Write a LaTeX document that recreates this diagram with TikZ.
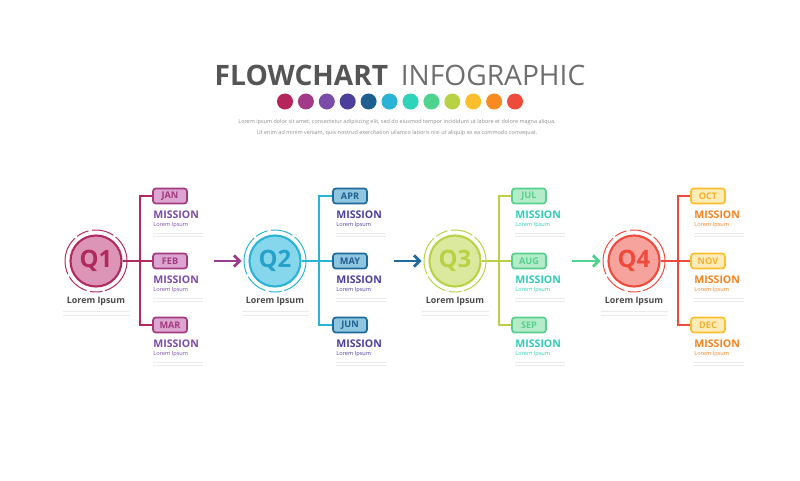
\documentclass[tikz,border=0pt]{standalone}
\usepackage{fontspec}
\setmainfont{Open Sans}
\usetikzlibrary{arrows.meta,positioning}

\definecolor{titlegray}{HTML}{555555}
\definecolor{lightgray}{HTML}{6E6E6E}
\definecolor{captiongray}{HTML}{4A4A4A}
\definecolor{dotA}{HTML}{B5245A}
\definecolor{dotB}{HTML}{A23B87}
\definecolor{dotC}{HTML}{7A4CA8}
\definecolor{dotD}{HTML}{4B3F9B}
\definecolor{dotE}{HTML}{1F5F8F}
\definecolor{dotF}{HTML}{2AB3D5}
\definecolor{dotG}{HTML}{2ED4BA}
\definecolor{dotH}{HTML}{4FD38F}
\definecolor{dotI}{HTML}{B9D245}
\definecolor{dotJ}{HTML}{FBBF2E}
\definecolor{dotK}{HTML}{F88A22}
\definecolor{dotL}{HTML}{EE4B3D}
% quarter 1
\definecolor{q1line}{HTML}{B02A60}
\definecolor{q1fill}{HTML}{DD95B7}
\definecolor{q1box}{HTML}{A3397F}
\definecolor{q1boxfill}{HTML}{DBA5CF}
\definecolor{q1mission}{HTML}{7C4BA6}
\definecolor{q1arrow}{HTML}{9B3C8C}
% quarter 2
\definecolor{q2line}{HTML}{2AB3D5}
\definecolor{q2fill}{HTML}{86D6EC}
\definecolor{q2text}{HTML}{25A2CA}
\definecolor{q2box}{HTML}{1F6A99}
\definecolor{q2boxfill}{HTML}{8EC6E0}
\definecolor{q2mission}{HTML}{4B3F9B}
\definecolor{q2arrow}{HTML}{1F6A99}
% quarter 3
\definecolor{q3line}{HTML}{B9D245}
\definecolor{q3fill}{HTML}{DBE99E}
\definecolor{q3box}{HTML}{56D08E}
\definecolor{q3boxfill}{HTML}{B4EBC8}
\definecolor{q3mission}{HTML}{2ECCB5}
\definecolor{q3arrow}{HTML}{4FD38F}
% quarter 4
\definecolor{q4line}{HTML}{EE4B3D}
\definecolor{q4fill}{HTML}{F5A39C}
\definecolor{q4box}{HTML}{FBBF2E}
\definecolor{q4boxtext}{HTML}{F0B030}
\definecolor{q4boxfill}{HTML}{FDEBB8}
\definecolor{q4mission}{HTML}{F5821F}

\begin{document}
\begin{tikzpicture}[x=0.025cm,y=-0.025cm,
  dot/.style={circle,minimum size=0.4cm,inner sep=0pt},
  quarter/.style={circle,line width=1.5pt,minimum size=1.275cm,inner sep=0pt,font=\bfseries\fontsize{17}{17}\selectfont},
  ring/.style={line width=0.7pt,dash pattern=on 28pt off 2pt on 9pt off 2.5pt on 16pt off 2pt},
  month/.style={rectangle,rounded corners=2pt,line width=1.2pt,minimum width=0.85cm,minimum height=0.375cm,inner sep=0pt,font=\bfseries\fontsize{6.5}{6.5}\selectfont},
  mission/.style={anchor=north west,inner sep=0pt,font=\bfseries\fontsize{7.5}{7.5}\selectfont},
  sublabel/.style={anchor=north west,inner sep=0pt,font=\fontsize{4}{4}\selectfont},
  caption/.style={inner sep=0pt,text=captiongray,font=\bfseries\fontsize{6.3}{6.3}\selectfont},
  header/.style={inner sep=0pt,text=black!45,font=\fontsize{3.9}{4}\selectfont},
  branch/.style={line width=1.8pt},
  flow/.style={-{Straight Barb[length=4pt,width=8pt]},line width=2pt},
  filler/.style={line width=0.6pt,draw=black!8}]
  \useasboundingbox (0,0) rectangle (800,480);

  % title and colour dots
  \node[anchor=base,inner sep=0pt,text=titlegray,font=\fontsize{20}{20}\selectfont] (title) at (400,85)
    {\textbf{FLOWCHART}\hspace{0.45em}\textcolor{lightgray}{INFOGRAPHIC}};
  \node[dot,fill=dotA] (d1) at (285,101.5) {};
  \node[dot,fill=dotB] (d2) at (305.9,101.5) {};
  \node[dot,fill=dotC] (d3) at (326.8,101.5) {};
  \node[dot,fill=dotD] (d4) at (347.7,101.5) {};
  \node[dot,fill=dotE] (d5) at (368.6,101.5) {};
  \node[dot,fill=dotF] (d6) at (389.5,101.5) {};
  \node[dot,fill=dotG] (d7) at (410.5,101.5) {};
  \node[dot,fill=dotH] (d8) at (431.4,101.5) {};
  \node[dot,fill=dotI] (d9) at (452.3,101.5) {};
  \node[dot,fill=dotJ] (d10) at (473.2,101.5) {};
  \node[dot,fill=dotK] (d11) at (494.1,101.5) {};
  \node[dot,fill=dotL] (d12) at (515,101.5) {};
  \node[header] (head1) at (397,122.5) {Lorem ipsum dolor sit amet, consectetur adipiscing elit, sed do eiusmod tempor incididunt ut labore et dolore magna aliqua.};
  \node[header] (head2) at (397,133.5) {Ut enim ad minim veniam, quis nostrud exercitation ullamco laboris nisi ut aliquip ex ea commodo consequat.};

  % Q1
  \node[quarter,fill=q1fill,draw=q1line,text=q1line] (q1) at (96,261) {Q1};
  \draw[ring,q1line] (q1) circle [radius=31];
  \node[caption] (cap1) at (96,301) {Lorem Ipsum};
  \draw[filler] (63,311) -- (130,311) (63,315) -- (130,315);
  \node[month,fill=q1boxfill,draw=q1box,text=q1box] (jan) at (170,196) {JAN};
  \node[month,fill=q1boxfill,draw=q1box,text=q1box] (feb) at (170,261) {FEB};
  \node[month,fill=q1boxfill,draw=q1box,text=q1box] (mar) at (170,325) {MAR};
  \coordinate (s1) at (140,261);
  \draw[branch,q1line] (jan.west) -| (s1) |- (mar.west);
  \draw[branch,q1line] (q1) -- (feb);
  \node[mission,text=q1mission] (janm) at ([shift={(1,6.5)}]jan.south west) {MISSION};
  \node[sublabel,text=q1mission] (janl) at ([shift={(0,3.5)}]janm.south west) {Lorem Ipsum};
  \draw[filler] ([shift={(0,5)}]janl.south west) -- ++(50,0) ([shift={(0,8)}]janl.south west) -- ++(50,0);
  \node[mission,text=q1mission] (febm) at ([shift={(1,6.5)}]feb.south west) {MISSION};
  \node[sublabel,text=q1mission] (febl) at ([shift={(0,3.5)}]febm.south west) {Lorem Ipsum};
  \draw[filler] ([shift={(0,5)}]febl.south west) -- ++(50,0) ([shift={(0,8)}]febl.south west) -- ++(50,0);
  \node[mission,text=q1mission] (marm) at ([shift={(1,6.5)}]mar.south west) {MISSION};
  \node[sublabel,text=q1mission] (marl) at ([shift={(0,3.5)}]marm.south west) {Lorem Ipsum};
  \draw[filler] ([shift={(0,5)}]marl.south west) -- ++(50,0) ([shift={(0,8)}]marl.south west) -- ++(50,0);

  % Q2
  \node[quarter,fill=q2fill,draw=q2line,text=q2text] (q2) at (275,261) {Q2};
  \draw[ring,q2line] (q2) circle [radius=31];
  \node[caption] (cap2) at (275,301) {Lorem Ipsum};
  \draw[filler] (242,311) -- (309,311) (242,315) -- (309,315);
  \node[month,fill=q2boxfill,draw=q2box,text=dotE] (apr) at (350,196) {APR};
  \node[month,fill=q2boxfill,draw=q2box,text=dotE] (may) at (350,261) {MAY};
  \node[month,fill=q2boxfill,draw=q2box,text=dotE] (jun) at (350,325) {JUN};
  \coordinate (s2) at (319,261);
  \draw[branch,q2line] (apr.west) -| (s2) |- (jun.west);
  \draw[branch,q2line] (q2) -- (may);
  \node[mission,text=q2mission] (aprm) at ([shift={(4,6.5)}]apr.south west) {MISSION};
  \node[sublabel,text=q2mission] (aprl) at ([shift={(0,3.5)}]aprm.south west) {Lorem Ipsum};
  \draw[filler] ([shift={(0,5)}]aprl.south west) -- ++(50,0) ([shift={(0,8)}]aprl.south west) -- ++(50,0);
  \node[mission,text=q2mission] (maym) at ([shift={(4,6.5)}]may.south west) {MISSION};
  \node[sublabel,text=q2mission] (mayl) at ([shift={(0,3.5)}]maym.south west) {Lorem Ipsum};
  \draw[filler] ([shift={(0,5)}]mayl.south west) -- ++(50,0) ([shift={(0,8)}]mayl.south west) -- ++(50,0);
  \node[mission,text=q2mission] (junm) at ([shift={(4,6.5)}]jun.south west) {MISSION};
  \node[sublabel,text=q2mission] (junl) at ([shift={(0,3.5)}]junm.south west) {Lorem Ipsum};
  \draw[filler] ([shift={(0,5)}]junl.south west) -- ++(50,0) ([shift={(0,8)}]junl.south west) -- ++(50,0);

  % Q3
  \node[quarter,fill=q3fill,draw=q3line,text=q3line] (q3) at (455,261) {Q3};
  \draw[ring,q3line] (q3) circle [radius=31];
  \node[caption] (cap3) at (455,301) {Lorem Ipsum};
  \draw[filler] (422,311) -- (489,311) (422,315) -- (489,315);
  \node[month,fill=q3boxfill,draw=q3box,text=q3box] (jul) at (529,196) {JUL};
  \node[month,fill=q3boxfill,draw=q3box,text=q3box] (aug) at (529,261) {AUG};
  \node[month,fill=q3boxfill,draw=q3box,text=q3box] (sep) at (529,325) {SEP};
  \coordinate (s3) at (499,261);
  \draw[branch,q3line] (jul.west) -| (s3) |- (sep.west);
  \draw[branch,q3line] (q3) -- (aug);
  \node[mission,text=q3mission] (julm) at ([shift={(4,6.5)}]jul.south west) {MISSION};
  \node[sublabel,text=q3mission] (jull) at ([shift={(0,3.5)}]julm.south west) {Lorem Ipsum};
  \draw[filler] ([shift={(0,5)}]jull.south west) -- ++(50,0) ([shift={(0,8)}]jull.south west) -- ++(50,0);
  \node[mission,text=q3mission] (augm) at ([shift={(4,6.5)}]aug.south west) {MISSION};
  \node[sublabel,text=q3mission] (augl) at ([shift={(0,3.5)}]augm.south west) {Lorem Ipsum};
  \draw[filler] ([shift={(0,5)}]augl.south west) -- ++(50,0) ([shift={(0,8)}]augl.south west) -- ++(50,0);
  \node[mission,text=q3mission] (sepm) at ([shift={(4,6.5)}]sep.south west) {MISSION};
  \node[sublabel,text=q3mission] (sepl) at ([shift={(0,3.5)}]sepm.south west) {Lorem Ipsum};
  \draw[filler] ([shift={(0,5)}]sepl.south west) -- ++(50,0) ([shift={(0,8)}]sepl.south west) -- ++(50,0);

  % Q4
  \node[quarter,fill=q4fill,draw=q4line,text=q4line] (q4) at (634,261) {Q4};
  \draw[ring,q4line] (q4) circle [radius=31];
  \node[caption] (cap4) at (634,301) {Lorem Ipsum};
  \draw[filler] (601,311) -- (668,311) (601,315) -- (668,315);
  \node[month,fill=q4boxfill,draw=q4box,text=q4boxtext] (oct) at (708,196) {OCT};
  \node[month,fill=q4boxfill,draw=q4box,text=q4boxtext] (nov) at (708,261) {NOV};
  \node[month,fill=q4boxfill,draw=q4box,text=q4boxtext] (dec) at (708,325) {DEC};
  \coordinate (s4) at (678,261);
  \draw[branch,q4line] (oct.west) -| (s4) |- (dec.west);
  \draw[branch,q4line] (q4) -- (nov);
  \node[mission,text=q4mission] (octm) at ([shift={(4,6.5)}]oct.south west) {MISSION};
  \node[sublabel,text=q4mission] (octl) at ([shift={(0,3.5)}]octm.south west) {Lorem Ipsum};
  \draw[filler] ([shift={(0,5)}]octl.south west) -- ++(50,0) ([shift={(0,8)}]octl.south west) -- ++(50,0);
  \node[mission,text=q4mission] (novm) at ([shift={(4,6.5)}]nov.south west) {MISSION};
  \node[sublabel,text=q4mission] (novl) at ([shift={(0,3.5)}]novm.south west) {Lorem Ipsum};
  \draw[filler] ([shift={(0,5)}]novl.south west) -- ++(50,0) ([shift={(0,8)}]novl.south west) -- ++(50,0);
  \node[mission,text=q4mission] (decm) at ([shift={(4,6.5)}]dec.south west) {MISSION};
  \node[sublabel,text=q4mission] (decl) at ([shift={(0,3.5)}]decm.south west) {Lorem Ipsum};
  \draw[filler] ([shift={(0,5)}]decl.south west) -- ++(50,0) ([shift={(0,8)}]decl.south west) -- ++(50,0);

  % arrows between quarters
  \draw[flow,q1arrow,shorten <=0.65cm,shorten >=0.17cm] (feb) -- (q2);
  \draw[flow,q2arrow,shorten <=0.65cm,shorten >=0.17cm] (may) -- (q3);
  \draw[flow,q3arrow,shorten <=0.62cm,shorten >=0.17cm] (aug) -- (q4);
\end{tikzpicture}
\end{document}
